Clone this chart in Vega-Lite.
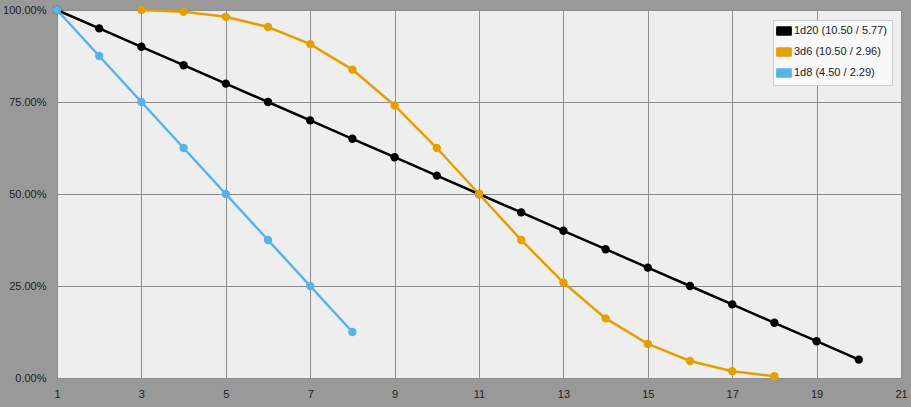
{
  "$schema": "https://vega.github.io/schema/vega-lite/v6.json",
  "width": 844,
  "height": 368,
  "autosize": "none",
  "padding": {"left": 57, "top": 10, "right": 10, "bottom": 29},
  "background": "#999999",
  "data": {
    "values": [
      {"die": "1d20 (10.50 / 5.77)", "x": 1, "p": 1.0},
      {"die": "1d20 (10.50 / 5.77)", "x": 2, "p": 0.95},
      {"die": "1d20 (10.50 / 5.77)", "x": 3, "p": 0.90},
      {"die": "1d20 (10.50 / 5.77)", "x": 4, "p": 0.85},
      {"die": "1d20 (10.50 / 5.77)", "x": 5, "p": 0.80},
      {"die": "1d20 (10.50 / 5.77)", "x": 6, "p": 0.75},
      {"die": "1d20 (10.50 / 5.77)", "x": 7, "p": 0.70},
      {"die": "1d20 (10.50 / 5.77)", "x": 8, "p": 0.65},
      {"die": "1d20 (10.50 / 5.77)", "x": 9, "p": 0.60},
      {"die": "1d20 (10.50 / 5.77)", "x": 10, "p": 0.55},
      {"die": "1d20 (10.50 / 5.77)", "x": 11, "p": 0.50},
      {"die": "1d20 (10.50 / 5.77)", "x": 12, "p": 0.45},
      {"die": "1d20 (10.50 / 5.77)", "x": 13, "p": 0.40},
      {"die": "1d20 (10.50 / 5.77)", "x": 14, "p": 0.35},
      {"die": "1d20 (10.50 / 5.77)", "x": 15, "p": 0.30},
      {"die": "1d20 (10.50 / 5.77)", "x": 16, "p": 0.25},
      {"die": "1d20 (10.50 / 5.77)", "x": 17, "p": 0.20},
      {"die": "1d20 (10.50 / 5.77)", "x": 18, "p": 0.15},
      {"die": "1d20 (10.50 / 5.77)", "x": 19, "p": 0.10},
      {"die": "1d20 (10.50 / 5.77)", "x": 20, "p": 0.05},
      {"die": "3d6 (10.50 / 2.96)", "x": 3, "p": 1.0},
      {"die": "3d6 (10.50 / 2.96)", "x": 4, "p": 0.9954},
      {"die": "3d6 (10.50 / 2.96)", "x": 5, "p": 0.9815},
      {"die": "3d6 (10.50 / 2.96)", "x": 6, "p": 0.9537},
      {"die": "3d6 (10.50 / 2.96)", "x": 7, "p": 0.9074},
      {"die": "3d6 (10.50 / 2.96)", "x": 8, "p": 0.8380},
      {"die": "3d6 (10.50 / 2.96)", "x": 9, "p": 0.7407},
      {"die": "3d6 (10.50 / 2.96)", "x": 10, "p": 0.6250},
      {"die": "3d6 (10.50 / 2.96)", "x": 11, "p": 0.50},
      {"die": "3d6 (10.50 / 2.96)", "x": 12, "p": 0.3750},
      {"die": "3d6 (10.50 / 2.96)", "x": 13, "p": 0.2593},
      {"die": "3d6 (10.50 / 2.96)", "x": 14, "p": 0.1620},
      {"die": "3d6 (10.50 / 2.96)", "x": 15, "p": 0.0926},
      {"die": "3d6 (10.50 / 2.96)", "x": 16, "p": 0.0463},
      {"die": "3d6 (10.50 / 2.96)", "x": 17, "p": 0.0185},
      {"die": "3d6 (10.50 / 2.96)", "x": 18, "p": 0.0046},
      {"die": "1d8 (4.50 / 2.29)", "x": 1, "p": 1.0},
      {"die": "1d8 (4.50 / 2.29)", "x": 2, "p": 0.875},
      {"die": "1d8 (4.50 / 2.29)", "x": 3, "p": 0.75},
      {"die": "1d8 (4.50 / 2.29)", "x": 4, "p": 0.625},
      {"die": "1d8 (4.50 / 2.29)", "x": 5, "p": 0.50},
      {"die": "1d8 (4.50 / 2.29)", "x": 6, "p": 0.375},
      {"die": "1d8 (4.50 / 2.29)", "x": 7, "p": 0.25},
      {"die": "1d8 (4.50 / 2.29)", "x": 8, "p": 0.125}
    ]
  },
  "mark": {
    "type": "line",
    "strokeWidth": 2.5,
    "point": {"size": 70, "filled": true, "opacity": 1}
  },
  "encoding": {
    "x": {
      "field": "x",
      "type": "quantitative",
      "scale": {"domain": [1, 21], "nice": false, "zero": false},
      "axis": {
        "title": null,
        "values": [1, 3, 5, 7, 9, 11, 13, 15, 17, 19, 21],
        "ticks": false,
        "domain": false,
        "labelFlush": false,
        "labelPadding": 10,
        "labelFontSize": 11,
        "labelColor": "#222222",
        "labelFont": "Liberation Sans",
        "gridColor": "#8c8c8c",
        "gridWidth": 1,
        "gridOpacity": 1
      }
    },
    "y": {
      "field": "p",
      "type": "quantitative",
      "scale": {"domain": [0, 1], "nice": false},
      "axis": {
        "title": null,
        "values": [0, 0.25, 0.5, 0.75, 1],
        "format": ".2%",
        "ticks": false,
        "domain": false,
        "labelPadding": 11,
        "labelFontSize": 11,
        "labelColor": "#222222",
        "labelFont": "Liberation Sans",
        "labelBaseline": "middle",
        "gridColor": "#8c8c8c",
        "gridWidth": 1,
        "gridOpacity": 1
      }
    },
    "color": {
      "field": "die",
      "type": "nominal",
      "scale": {
        "domain": ["1d20 (10.50 / 5.77)", "3d6 (10.50 / 2.96)", "1d8 (4.50 / 2.29)"],
        "range": ["#000000", "#e69f00", "#56b4e9"]
      },
      "legend": {
        "title": null,
        "orient": "none",
        "legendX": 716,
        "legendY": 10,
        "fillColor": "#f8f8f8",
        "strokeColor": "#cccccc",
        "padding": 5,
        "symbolType": "M-1.4,-0.8H1.4V0.8H-1.4Z",
        "symbolSize": 110,
        "symbolStrokeColor": "#aaaaaa",
        "symbolStrokeWidth": 1,
        "labelFontSize": 11,
        "labelFont": "Liberation Sans",
        "labelColor": "#222222",
        "rowPadding": 7
      }
    }
  },
  "config": {
    "view": {"fill": "#eeeeee", "stroke": null}
  }
}
